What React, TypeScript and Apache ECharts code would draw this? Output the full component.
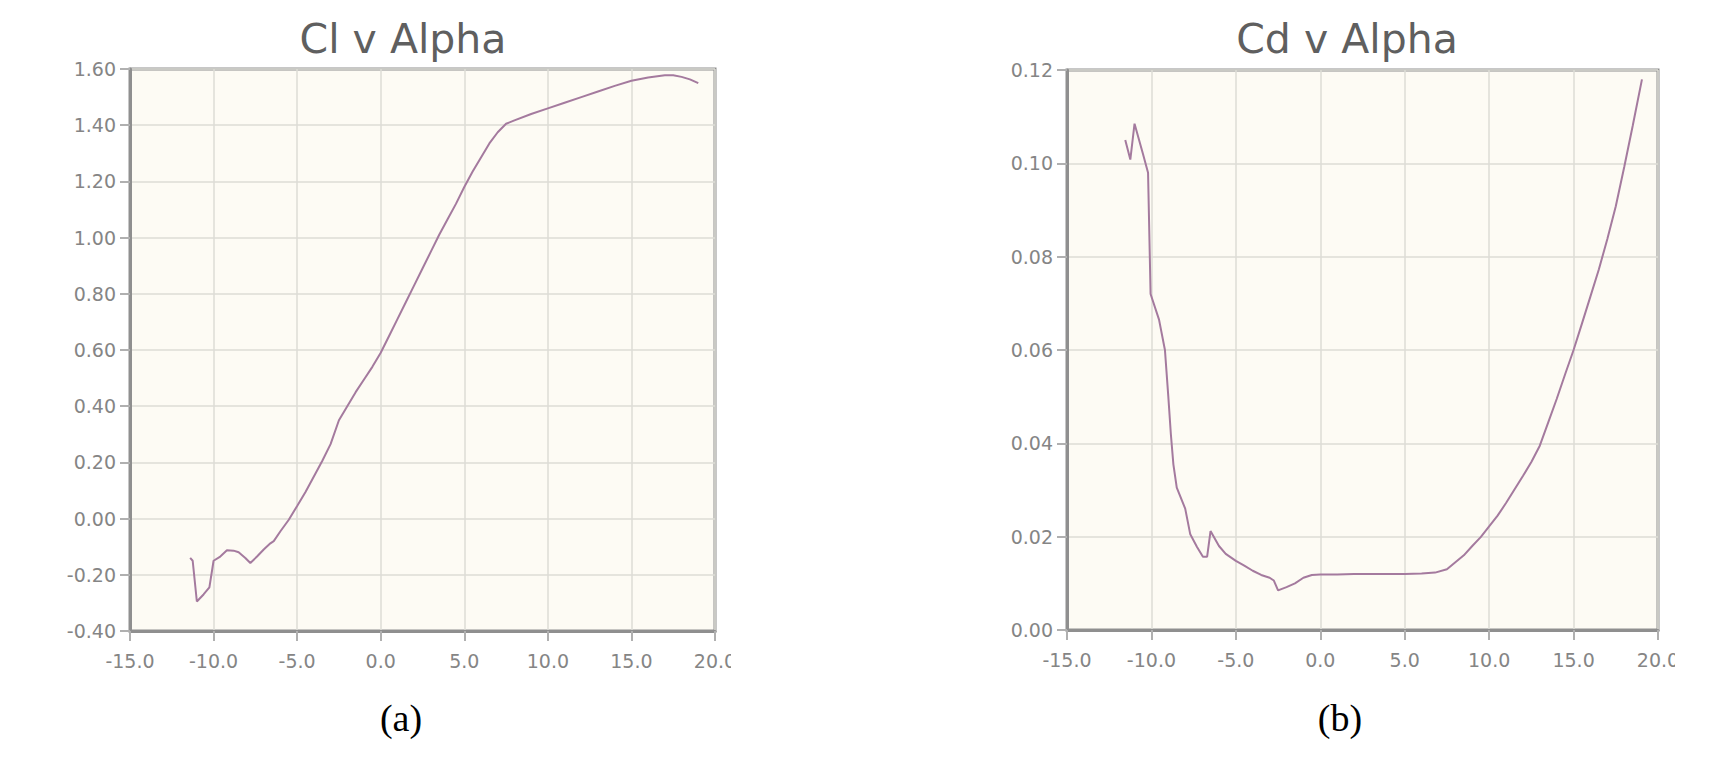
import React, { useEffect, useRef } from "react";
import * as echarts from "echarts";

// ---- Data ----
const clAlpha = [
  -11.4, -11.25, -11.0, -10.6, -10.25, -10.0, -9.6, -9.2, -8.8, -8.5, -8.1, -7.8, -7.4, -7.0, -6.6, -6.4,
  -6.0, -5.5, -5.0, -4.5, -4.0, -3.5, -3.0, -2.5, -2.0, -1.5, -1.0, -0.5, 0.0, 0.5, 1.0, 1.5, 2.0, 2.5,
  3.0, 3.5, 4.0, 4.5, 5.0, 5.5, 6.0, 6.5, 7.0, 7.5, 8.0, 9.0, 10.0, 11.0, 12.0, 13.0, 14.0, 15.0, 16.0,
  17.0, 17.5, 18.0, 18.5, 19.0,
];
const clValues = [
  -0.14, -0.15, -0.295, -0.27, -0.245, -0.15, -0.135, -0.113, -0.114, -0.12, -0.14, -0.158, -0.135, -0.11,
  -0.088, -0.08, -0.045, -0.004, 0.045, 0.095, 0.15, 0.205, 0.265, 0.35, 0.4, 0.45, 0.495, 0.54, 0.59,
  0.65, 0.71, 0.77, 0.83, 0.89, 0.95, 1.01, 1.065, 1.12, 1.18, 1.235, 1.285, 1.335, 1.375, 1.405, 1.417,
  1.44, 1.46, 1.48, 1.5, 1.52, 1.54, 1.558, 1.57, 1.578, 1.578, 1.572, 1.563, 1.55,
];

const cdAlpha = [
  -11.55, -11.25, -11.0, -10.5, -10.2, -10.05, -9.55, -9.2, -9.0, -8.85, -8.7, -8.5, -8.0, -7.7, -7.3,
  -6.95, -6.7, -6.5, -6.0, -5.6, -5.0, -4.5, -4.0, -3.5, -3.0, -2.75, -2.5, -2.0, -1.5, -1.0, -0.5, 0.0,
  1.0, 2.0, 3.0, 4.0, 5.0, 6.0, 6.8, 7.5, 8.0, 8.5, 9.0, 9.5, 10.0, 10.5, 11.0, 12.0, 12.5, 13.0, 13.5,
  14.0, 14.5, 15.0, 15.5, 16.0, 16.5, 17.0, 17.5, 18.0, 18.5, 19.05,
];
const cdValues = [
  0.105, 0.1008, 0.1085, 0.102, 0.098, 0.072, 0.0665, 0.06, 0.05, 0.042, 0.0355, 0.0305, 0.026, 0.0205,
  0.0178, 0.0157, 0.0157, 0.0212, 0.018, 0.0163, 0.0148, 0.0138, 0.0127, 0.0118, 0.0112, 0.0106, 0.0085,
  0.0092, 0.01, 0.0112, 0.0118, 0.0119, 0.0119, 0.012, 0.012, 0.012, 0.012, 0.0121, 0.0123, 0.013,
  0.0145, 0.016, 0.018, 0.0199, 0.0222, 0.0245, 0.0272, 0.033, 0.036, 0.0395, 0.0445, 0.0495, 0.0548,
  0.06, 0.0657, 0.0715, 0.0773, 0.0838, 0.0908, 0.0992, 0.108, 0.118,
];

const xMin = -15;
const xMax = 20;
const xStep = 5;
const clMin = -0.4;
const clMax = 1.6;
const clStep = 0.2;
const cdMin = 0;
const cdMax = 0.12;
const cdStep = 0.02;

const titles = ["Cl v Alpha", "Cd v Alpha"];
const captions = ["(a)", "(b)"];

const LABEL_FONT = "DejaVu Sans";
const LINE_COLOR = "#a47a9e";

function makeOption(
  title: string,
  caption: string,
  xs: number[],
  ys: number[],
  yMin: number,
  yMax: number,
  yStep: number,
  layout: { left: number; right: number; top: number; bottom: number; titleX: number; capX: number }
) {
  return {
    animation: false,
    backgroundColor: "#ffffff",
    title: {
      text: title,
      left: layout.titleX,
      top: 13,
      textAlign: "center",
      textStyle: { fontFamily: LABEL_FONT, fontSize: 41, fontWeight: "normal", color: "#5f5f5f" },
    },
    grid: {
      left: layout.left,
      right: layout.right,
      top: layout.top,
      bottom: layout.bottom,
      show: true,
      backgroundColor: "#fdfbf4",
      borderColor: "#8f8f8f",
      borderWidth: 3,
      containLabel: false,
      outerBoundsMode: "none",
    },
    xAxis: {
      type: "value",
      min: xMin,
      max: xMax,
      interval: xStep,
      axisLine: { show: true, onZero: false, lineStyle: { color: "#8f8f8f", width: 3 } },
      axisTick: { show: true, length: 10, lineStyle: { color: "#b0b0b0", width: 2 } },
      splitLine: { show: true, lineStyle: { color: "#dcdcd6", width: 1.5 } },
      axisLabel: {
        margin: 20,
        color: "#858585",
        fontFamily: LABEL_FONT,
        fontSize: 19,
        formatter: (v: number) => v.toFixed(1),
      },
    },
    yAxis: {
      type: "value",
      min: yMin,
      max: yMax,
      interval: yStep,
      axisLine: { show: true, onZero: false, lineStyle: { color: "#8f8f8f", width: 3 } },
      axisTick: { show: true, length: 10, lineStyle: { color: "#b0b0b0", width: 2 } },
      splitLine: { show: true, lineStyle: { color: "#dcdcd6", width: 1.5 } },
      axisLabel: {
        margin: 14,
        color: "#858585",
        fontFamily: LABEL_FONT,
        fontSize: 19,
        formatter: (v: number) => v.toFixed(2),
      },
    },
    series: [
      {
        type: "line",
        data: xs.map((x, i) => [x, ys[i]]),
        showSymbol: false,
        symbol: "none",
        lineStyle: { color: LINE_COLOR, width: 2 },
        clip: true,
      },
    ],
    graphic: [
      {
        type: "text",
        x: layout.capX,
        y: 718,
        style: {
          text: caption,
          font: "38px 'Liberation Serif', 'Times New Roman', serif",
          fill: "#000000",
          textAlign: "center",
          textVerticalAlign: "middle",
          verticalAlign: "middle",
        },
      },
    ],
  };
}

function ChartBox(props: { left: number; width: number; option: any }) {
  const ref = useRef<HTMLDivElement>(null);
  useEffect(() => {
    if (!ref.current) return;
    const chart = echarts.init(ref.current, undefined, { renderer: "svg" });
    chart.setOption(props.option);
    return () => chart.dispose();
  }, []);
  return (
    <div
      ref={ref}
      style={{
        position: "absolute",
        left: props.left,
        top: 0,
        width: props.width,
        height: 760,
        overflow: "hidden",
      }}
    />
  );
}

export default function App() {
  const optA = makeOption(titles[0], captions[0], clAlpha, clValues, clMin, clMax, clStep, {
    left: 130,
    right: 16,
    top: 69,
    bottom: 129,
    titleX: 398,
    capX: 401,
  });
  const optB = makeOption(titles[1], captions[1], cdAlpha, cdValues, cdMin, cdMax, cdStep, {
    left: 167,
    right: 17,
    top: 70,
    bottom: 130,
    titleX: 442,
    capX: 440,
  });
  return (
    <div
      style={{
        position: "fixed",
        left: 0,
        top: 0,
        width: 1718,
        height: 760,
        background: "#ffffff",
        overflow: "hidden",
      }}
    >
      <ChartBox left={0} width={731} option={optA} />
      <ChartBox left={900} width={775} option={optB} />
    </div>
  );
}
